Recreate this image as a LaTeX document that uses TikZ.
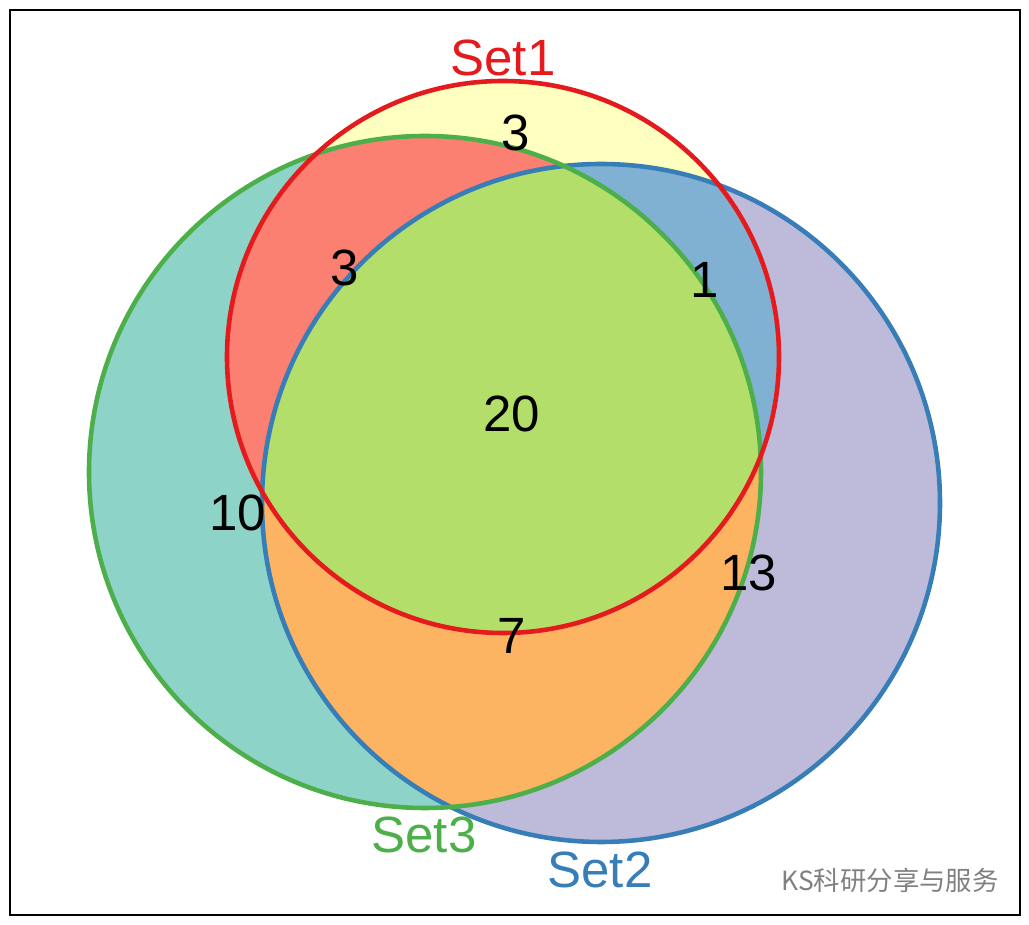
\documentclass[tikz,border=0pt]{standalone}
\usepackage{fontspec}
\setmainfont{Liberation Sans}
\newfontfamily\cjk{Noto Sans CJK SC}
\begin{document}
\begin{tikzpicture}[x=0.01cm,y=-0.01cm,
  lab/.style={font=\fontsize{14.5}{17}\selectfont},
  ring/.style={line width=1.3pt}]
\useasboundingbox (0,0) rectangle (1029,925);
\draw[line width=0.4pt] (10,10) rectangle (1020,915);
\def\cA{(503,357) circle (276)}
\def\cB{(601,503) circle (339)}
\def\cC{(425,472) circle (336)}
\definecolor{cy}{HTML}{FFFFBF}\definecolor{cp}{HTML}{BEBADA}
\definecolor{ct}{HTML}{8DD3C7}\definecolor{cb}{HTML}{80B1D3}
\definecolor{cs}{HTML}{FB8072}\definecolor{co}{HTML}{FDB462}
\definecolor{cg}{HTML}{B3DE69}
\definecolor{rA}{HTML}{E41A1C}\definecolor{rB}{HTML}{377EB8}\definecolor{rC}{HTML}{4DAF4A}
\fill[cy] \cA; \fill[cp] \cB; \fill[ct] \cC;
\begin{scope}\clip \cA; \fill[cb] \cB; \end{scope}
\begin{scope}\clip \cA; \fill[cs] \cC; \end{scope}
\begin{scope}\clip \cB; \fill[co] \cC; \end{scope}
\begin{scope}\clip \cA; \clip \cB; \fill[cg] \cC; \end{scope}
\draw[ring,rB] \cB; \draw[ring,rC] \cC; \draw[ring,rA] \cA;
\node[lab,rA] (s1) at (503,58) {Set1};
\node[lab,rB] (s2) at (600,870) {Set2};
\node[lab,rC] (s3) at (424,835) {Set3};
\node[lab] (n1) at (516,133) {3};
\node[lab] (n2) at (345,268) {3};
\node[lab] (n3) at (705,280) {1};
\node[lab] (n4) at (512,414) {20};
\node[lab] (n5) at (238,513) {10};
\node[lab] (n6) at (749,573) {13};
\node[lab] (n7) at (512,636) {7};
\node[gray,font=\cjk\fontsize{7.5}{9}\selectfont] (wm) at (890,880) {KS科研分享与服务};
\end{tikzpicture}
\end{document}
